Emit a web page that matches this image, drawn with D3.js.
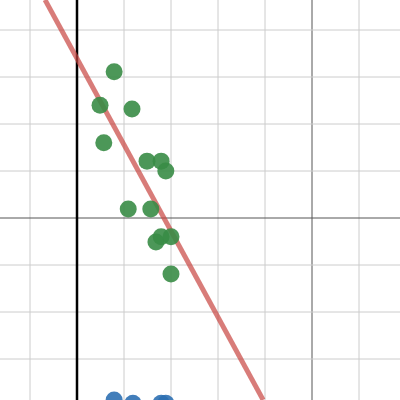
<!DOCTYPE html><html><head><script src="https://cdn.jsdelivr.net/npm/d3@7"></script>
<style>body{margin:0}svg{display:block;background:#fff}</style></head><body><script>
const greenX=[0.79,0.49,1.17,0.57,1.49,1.79,1.89,1.09,1.57,1.79,1.68,2.0,2.0];
const greenY=[3.11,2.40,2.32,1.60,1.21,1.21,1.00,0.19,0.19,-0.40,-0.51,-0.40,-1.19];
const blueX=[0.79,1.19,1.79,1.89];
const blueY=[-3.87,-3.94,-3.94,-3.94];
const lineX=[-0.68,3.96];
const lineY=[4.64,-3.87];
const W=400,H=400;
const x=d3.scaleLinear().domain([-77/47,323/47]).range([0,W]);
const y=d3.scaleLinear().domain([-182/47,218/47]).range([H,0]);
const svg=d3.select("body").append("svg").attr("width",W).attr("height",H);
const xt=d3.range(-1,7),yt=d3.range(-3,5);
svg.selectAll(".gx").data(xt).join("line").attr("x1",d=>x(d)).attr("x2",d=>x(d)).attr("y1",0).attr("y2",H)
 .attr("stroke",d=>d==5?"#555":"#ccc").attr("stroke-width",1);
svg.selectAll(".gy").data(yt).join("line").attr("y1",d=>y(d)).attr("y2",d=>y(d)).attr("x1",0).attr("x2",W)
 .attr("stroke",d=>d==0?"#555":"#ccc").attr("stroke-width",1);
svg.append("line").attr("x1",x(0)).attr("x2",x(0)).attr("y1",0).attr("y2",H).attr("stroke","#000").attr("stroke-width",2.5);
svg.append("line").attr("x1",x(lineX[0])).attr("y1",y(lineY[0])).attr("x2",x(lineX[1])).attr("y2",y(lineY[1]))
 .attr("stroke","#c74440").attr("stroke-opacity",0.7).attr("stroke-width",5);
svg.selectAll(".g").data(greenX).join("circle").attr("cx",d=>x(d)).attr("cy",(d,i)=>y(greenY[i])).attr("r",8.5)
 .attr("fill","#388c46").attr("fill-opacity",0.9);
svg.selectAll(".b").data(blueX).join("circle").attr("cx",d=>x(d)).attr("cy",(d,i)=>y(blueY[i])).attr("r",8.5)
 .attr("fill","#2d70b3").attr("fill-opacity",0.9);
</script></body></html>
